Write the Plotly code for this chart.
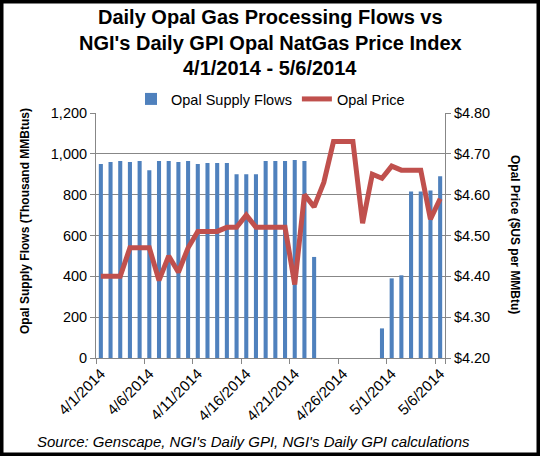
import plotly.graph_objects as go

# daily dates 4/1/2014 - 5/6/2014
dates = [f"4/{d}/2014" for d in range(1, 31)] + [f"5/{d}/2014" for d in range(1, 7)]

# Opal supply flows (thousand MMBtus), no data 4/24 - 4/29
flows = [950, 960, 965, 960, 965, 920, 965, 965, 960, 965,
         950, 955, 955, 955, 900, 900, 900, 965, 965, 965,
         970, 965, 495, None, None, None, None, None, None, 145,
         390, 405, 815, 815, 820, 890]

# Opal price ($US per MMBtu)
price = [4.40, 4.40, 4.40, 4.47, 4.47, 4.47, 4.39, 4.45, 4.41, 4.47,
         4.51, 4.51, 4.51, 4.52, 4.52, 4.55, 4.52, 4.52, 4.52, 4.52,
         4.38, 4.60, 4.57, 4.63, 4.73, 4.73, 4.73, 4.53, 4.65, 4.64,
         4.67, 4.66, 4.66, 4.66, 4.54, 4.59]

tick_dates = dates[::5]
title_lines = ["Daily Opal Gas Processing Flows vs",
               "NGI's Daily GPI Opal NatGas Price Index",
               "4/1/2014 - 5/6/2014"]

W, H = 540, 456
ml, mr, mt, mb = 96, 95, 113, 98
pw, ph = W - ml - mr, H - mt - mb
grid = "#878787"
font = "Liberation Sans, Arial, sans-serif"


def px_x(x):
    return (x - ml) / pw


def px_y(y):
    return (H - mb - y) / ph


fig = go.Figure()
fig.add_trace(go.Bar(x=dates, y=flows, name="Opal Supply Flows",
                     marker=dict(color="#4F81BD", line=dict(width=0))))
fig.add_trace(go.Scatter(x=dates, y=price, name="Opal Price", yaxis="y2",
                         mode="lines", line=dict(color="#C0504D", width=5)))

fig.update_layout(
    width=W, height=H,
    margin=dict(l=ml, r=mr, t=mt, b=mb),
    paper_bgcolor="white", plot_bgcolor="white",
    font=dict(family=font, color="black", size=14),
    bargap=0.58,
    showlegend=True,
    legend=dict(orientation="h", x=0.5, xanchor="center", y=px_y(99), yanchor="middle",
                font=dict(size=14.5), bgcolor="rgba(0,0,0,0)"),
    xaxis=dict(type="category", tickmode="array", tickvals=tick_dates, ticktext=tick_dates,
               tickangle=-45, tickson="boundaries", ticks="outside", ticklen=5, tickcolor=grid,
               showline=True, linecolor=grid, showgrid=False, tickfont=dict(size=15)),
    yaxis=dict(range=[0, 1200], dtick=200, tickformat=",", showgrid=True, gridcolor=grid,
               showline=True, linecolor=grid, ticks="outside", ticklen=5, tickcolor=grid,
               zeroline=False, tickfont=dict(size=14.5)),
    yaxis2=dict(range=[4.2, 4.8], dtick=0.1, tickformat="$.2f", overlaying="y", side="right",
                showgrid=False, showline=True, linecolor=grid, ticks="outside", ticklen=5,
                tickcolor=grid, zeroline=False, tickfont=dict(size=14.5)),
)

for line, yc in zip(title_lines, [17, 43, 68]):
    fig.add_annotation(text=f"<b>{line}</b>", xref="paper", yref="paper",
                       x=px_x(270), y=px_y(yc), xanchor="center", yanchor="middle",
                       showarrow=False, font=dict(size=20, color="black"))

fig.add_annotation(text="<b>Opal Supply Flows (Thousand MMBtus)</b>", textangle=-90,
                   xref="paper", yref="paper", x=px_x(25), y=px_y(221),
                   xanchor="center", yanchor="middle",
                   showarrow=False, font=dict(size=12, color="black"))
fig.add_annotation(text="<b>Opal Price ($US per MMBtu)</b>", textangle=90,
                   xref="paper", yref="paper", x=px_x(515), y=px_y(234),
                   xanchor="center", yanchor="middle",
                   showarrow=False, font=dict(size=12, color="black"))
fig.add_annotation(text="<i>Source: Genscape, NGI's Daily GPI, NGI's Daily GPI calculations</i>",
                   xref="paper", yref="paper", x=px_x(253), y=px_y(441),
                   xanchor="center", yanchor="middle",
                   showarrow=False, font=dict(size=15, color="black"))

# black frame around the whole picture
fig.add_shape(type="rect", xref="paper", yref="paper",
              x0=-ml / pw, x1=1 + mr / pw, y0=-mb / ph, y1=1 + mt / ph,
              line=dict(color="black", width=7), fillcolor="rgba(0,0,0,0)")

# drop the default page margin so the figure sits at the window's corner
fig.write_html("out.html", config={"displayModeBar": False},
               post_script="document.body.style.margin='0px';")
